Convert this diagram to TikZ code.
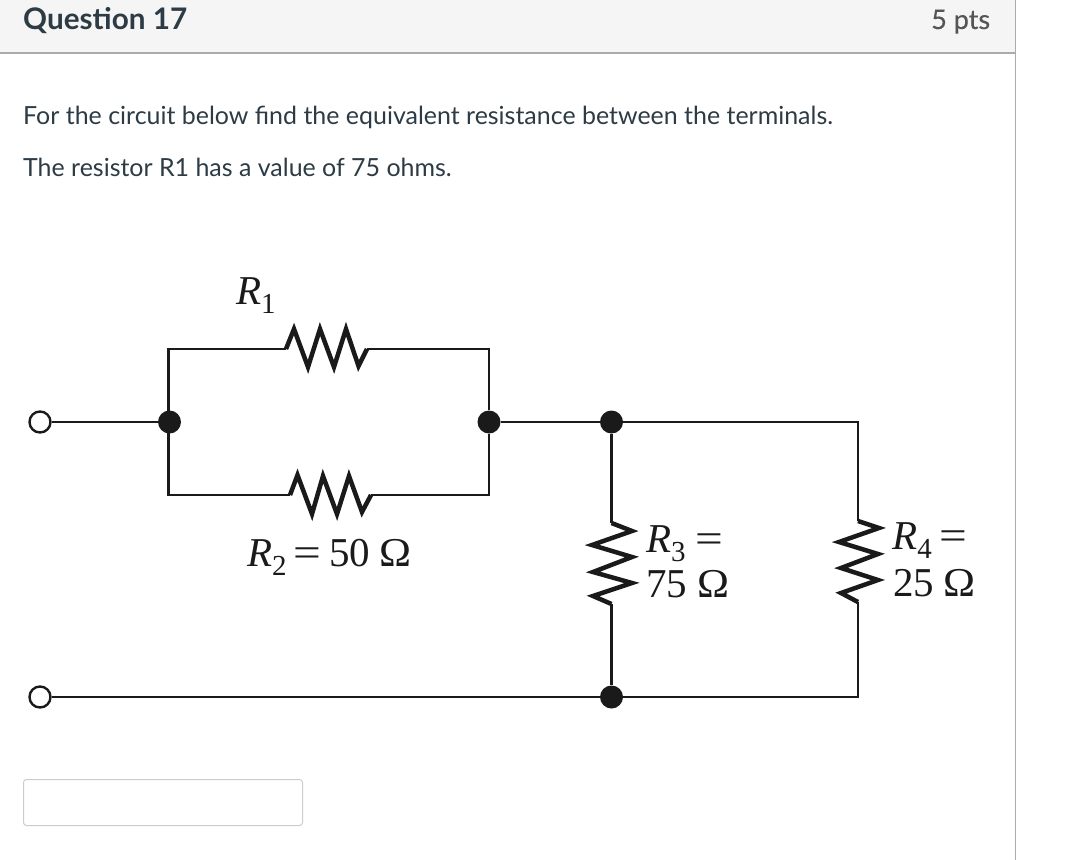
\documentclass[tikz,border=0pt]{standalone}
\usepackage{fontspec}
\setmainfont{Liberation Serif}
\newfontfamily\uifont{Lato}
\newfontfamily\uimed[FakeBold=0.35]{Lato}
\definecolor{titlec}{HTML}{2D3B45}
\definecolor{ptsc}{HTML}{555555}
\definecolor{bandc}{HTML}{F5F5F5}
\definecolor{rulec}{HTML}{ABABAB}
\definecolor{boxc}{HTML}{CCCCCC}
\definecolor{inkc}{HTML}{1A1A1A}
\newcommand{\symR}[1]{{\itshape R}\kern0pt\raisebox{-9pt}{\fontsize{29}{29}\selectfont #1}}
\newcommand{\eqs}{\scalebox{1.2}[1]{=}}
\newcommand{\ohm}{\scalebox{1.05}[1]{Ω}}
\tikzset{
  wire/.style={draw=inkc,line width=2.9pt,line join=miter},
  zig/.style={draw=inkc,line width=4.5pt,line join=miter,line cap=butt},
  dotn/.style={circle,fill=inkc,draw=none,minimum size=23pt,inner sep=0pt},
  term/.style={circle,fill=white,draw=inkc,line width=2.4pt,minimum size=21pt,inner sep=0pt},
  ui/.style={anchor=base west,inner sep=0pt,font=\uifont\fontsize{24.95}{25}\selectfont,text=titlec},
  lab/.style={anchor=base west,inner sep=0pt,font=\fontsize{41}{41}\selectfont,text=inkc},
}
\begin{document}
\begin{tikzpicture}[x=1pt,y=-1pt]
\useasboundingbox (0,0) rectangle (1080,860);
\fill[white] (0,0) rectangle (1080,860);
\fill[bandc] (0,0) rectangle (1015,53);
\draw[rulec,line width=1.2pt] (0,53) -- (1015,53);
\draw[rulec,line width=1.2pt] (1015.5,0) -- (1015.5,860);
\node[ui,font=\uifont\bfseries\fontsize{29.7}{30}\selectfont] (title) at (23,29) {Question 17};
\node[ui,text=ptsc,font=\uimed\fontsize{27}{27}\selectfont] (pts) at (931,29) {5 pts};
\node[ui] (l1) at (23,124) {For the circuit below find the equivalent resistance between the terminals.};
\node[ui] (l2) at (23,176) {The resistor R1 has a value of 75 ohms.};
\node[draw=boxc,line width=1pt,rounded corners=3pt,minimum width=279pt,minimum height=46pt,inner sep=0pt,anchor=north west] (answer) at (23,779) {};
% junctions and terminals
\node[term] (ta) at (40,422) {};
\node[term] (tb) at (40,697) {};
\node[dotn] (j1) at (169.5,422) {};
\node[dotn] (j2) at (489,422) {};
\node[dotn] (j3) at (611.5,422) {};
\node[dotn] (j4) at (611.5,697) {};
\coordinate (c1) at (168.5,349); \coordinate (c2) at (489,349);
\coordinate (c3) at (168.5,495); \coordinate (c4) at (489,495);
\coordinate (c5) at (858,422); \coordinate (c6) at (858,697);
\coordinate (r1a) at (286,349); \coordinate (r1b) at (367,349);
\coordinate (r2a) at (290,495); \coordinate (r2b) at (371,495);
\coordinate (r3a) at (611.5,523); \coordinate (r3b) at (611.5,604);
\coordinate (r4a) at (858,521); \coordinate (r4b) at (858,602);
% wires
\draw[wire] (ta) -- (j1);
\draw[wire] (j1) -- (c1 |- j1) -- (c1) -- (r1a);
\draw[wire] (r1b) -- (c2) -- (j2);
\draw[wire] (j1) -- (c3 |- j1) -- (c3) -- (r2a);
\draw[wire] (r2b) -- (c4) -- (j2);
\draw[wire] (j2) -- (j3);
\draw[wire] (j3) -- (c5) -- (r4a);
\draw[wire] (j3) -- (r3a);
\draw[wire] (r3b) -- (j4);
\draw[wire] (r4b) -- (c6) -- (j4);
\draw[wire] (tb) -- (j4);
% resistors
\draw[zig] (r1a) -- (294,329) -- (308,367) -- (320,329) -- (334,367) -- (346,329) -- (358.5,366) -- (r1b);
\draw[zig] (r2a) -- (297.5,475) -- (312,514) -- (323,476) -- (337,514) -- (349,476) -- (362,512) -- (r2b);
\draw[zig] (r3a) -- (632,531) -- (592,545) -- (632,557) -- (593,572) -- (632,583) -- (593,596) -- (r3b);
\draw[zig] (r4a) -- (879,528) -- (839,542) -- (878,554) -- (841,568) -- (878,580) -- (841,593) -- (r4b);
% labels
\node[lab] (lr1) at (236,304) {\symR{1}};
\node[lab] (lr2) at (247,566) {\symR{2}\kern7pt\eqs\kern8pt50\kern9pt\ohm};
\node[lab] (lr3) at (646,552) {\symR{3}\kern10pt\eqs};
\node[lab] (lr3b) at (646,597) {75\kern10pt\ohm};
\node[lab] (lr4) at (892,549) {\symR{4}\kern8pt\eqs};
\node[lab] (lr4b) at (893,596) {25\kern9pt\ohm};
\end{tikzpicture}
\end{document}
